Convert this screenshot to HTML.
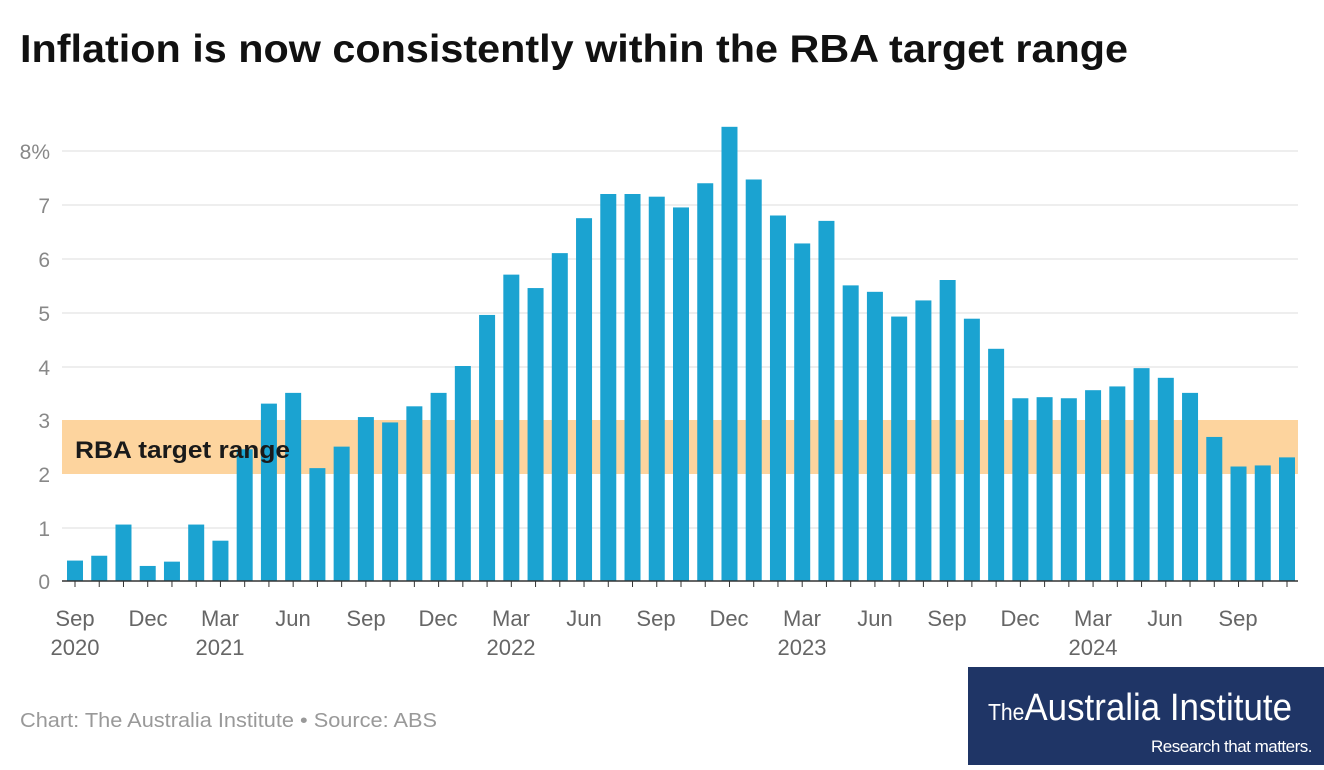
<!DOCTYPE html>
<html><head><meta charset="utf-8"><style>
body{margin:0;background:#fff;width:1324px;height:765px;overflow:hidden;font-family:"Liberation Sans",sans-serif}
</style></head><body>
<svg width="1324" height="765" xmlns="http://www.w3.org/2000/svg" font-family="Liberation Sans, sans-serif">
<text x="20" y="62" font-size="39" font-weight="bold" fill="#111" textLength="1108" lengthAdjust="spacingAndGlyphs">Inflation is now consistently within the RBA target range</text>
<rect x="62" y="420" width="1236" height="54" fill="#fdd49e"/>
<g stroke="#dcdcdc" stroke-width="1">
<line x1="62" x2="1298" y1="151" y2="151"/><line x1="62" x2="1298" y1="205" y2="205"/>
<line x1="62" x2="1298" y1="259" y2="259"/><line x1="62" x2="1298" y1="313" y2="313"/>
<line x1="62" x2="1298" y1="367" y2="367"/><line x1="62" x2="1298" y1="528" y2="528"/>
</g>
<g font-size="21" fill="#888" text-anchor="end">
<text x="50" y="159">8%</text><text x="50" y="213">7</text><text x="50" y="267">6</text><text x="50" y="321">5</text>
<text x="50" y="375">4</text><text x="50" y="428">3</text><text x="50" y="482">2</text><text x="50" y="536">1</text><text x="50" y="589">0</text>
</g>
<g id="bars" fill="#1ba3d1"></g>
<line x1="62" x2="1298" y1="581" y2="581" stroke="#333" stroke-width="1.5"/>
<text x="75" y="458" font-size="24" font-weight="bold" fill="#1a1a1a" textLength="215" lengthAdjust="spacingAndGlyphs">RBA target range</text>
<g id="ticks" stroke="#333"></g>
<g font-size="22" fill="#666" text-anchor="middle">
<text x="75" y="626">Sep</text><text x="75" y="655">2020</text>
<text x="148" y="626">Dec</text>
<text x="220" y="626">Mar</text><text x="220" y="655">2021</text>
<text x="293" y="626">Jun</text><text x="366" y="626">Sep</text><text x="438" y="626">Dec</text>
<text x="511" y="626">Mar</text><text x="511" y="655">2022</text>
<text x="584" y="626">Jun</text><text x="656" y="626">Sep</text><text x="729" y="626">Dec</text>
<text x="802" y="626">Mar</text><text x="802" y="655">2023</text>
<text x="875" y="626">Jun</text><text x="947" y="626">Sep</text><text x="1020" y="626">Dec</text>
<text x="1093" y="626">Mar</text><text x="1093" y="655">2024</text>
<text x="1165" y="626">Jun</text><text x="1238" y="626">Sep</text>
</g>
<text x="20" y="727" font-size="20" fill="#999" textLength="417" lengthAdjust="spacingAndGlyphs">Chart: The Australia Institute • Source: ABS</text>
<rect x="968" y="667" width="356" height="98" fill="#1f3566"/>
<text x="988" y="720" font-size="38" fill="#fff" textLength="304" lengthAdjust="spacingAndGlyphs"><tspan font-size="23">The</tspan>Australia Institute</text>
<text x="1312" y="752" font-size="17" fill="#fff" text-anchor="end" letter-spacing="-0.5">Research that matters.</text>
</svg>
<script>
var v=[0.38,0.47,1.05,0.28,0.36,1.05,0.75,2.45,3.3,3.5,2.1,2.5,3.05,2.95,3.25,3.5,4.0,4.95,5.7,5.45,6.1,6.75,7.2,7.2,7.15,6.95,7.4,8.45,7.47,6.8,6.28,6.7,5.5,5.38,4.92,5.22,5.6,4.88,4.32,3.4,3.42,3.4,3.55,3.62,3.96,3.78,3.5,2.68,2.13,2.15,2.3];
var g=document.getElementById('bars'),t=document.getElementById('ticks'),ns='http://www.w3.org/2000/svg';
for(var i=0;i<v.length;i++){var x=75+i*24.24,h=v[i]*53.75;var r=document.createElementNS(ns,'rect');
r.setAttribute('x',x-8);r.setAttribute('y',581-h);r.setAttribute('width',16);r.setAttribute('height',h);g.appendChild(r);
var l=document.createElementNS(ns,'line');l.setAttribute('x1',x);l.setAttribute('x2',x);l.setAttribute('y1',581);l.setAttribute('y2',587);t.appendChild(l);}
</script>
</body></html>
